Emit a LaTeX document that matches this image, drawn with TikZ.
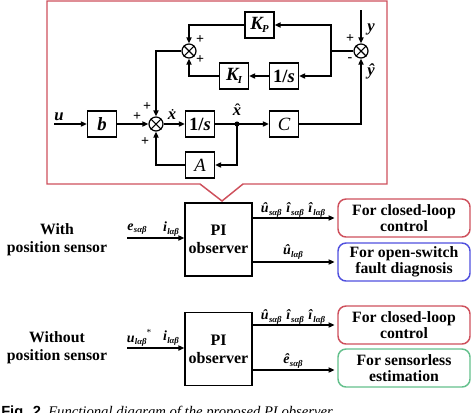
\documentclass[tikz,border=0pt]{standalone}
\usepackage{fontspec}
\setmainfont{Liberation Serif}
\newfontfamily\capsans{Liberation Sans}
\usetikzlibrary{arrows.meta}
\definecolor{callred}{RGB}{206,80,92}
\definecolor{boxred}{RGB}{206,80,92}
\definecolor{boxblue}{RGB}{80,80,222}
\definecolor{boxgreen}{RGB}{100,192,140}
\newcommand{\sgl}[2]{\textbf{\textit{#1}}\kern0.2pt\raisebox{-1.7pt}{\fontsize{6.5}{6.5}\selectfont\bfseries\itshape #2}}
\newcommand{\dotx}{\ooalign{\textbf{\textit{x}}\cr\hidewidth\kern1pt\raisebox{-0.05em}{˙}\hidewidth\cr}}
\newcommand{\hatx}{\ooalign{\textbf{\textit{x}}\cr\hidewidth\kern1pt ˆ\hidewidth\cr}}
\begin{document}
\begin{tikzpicture}[x=0.75pt,y=-0.75pt,
  blk/.style={draw,line width=0.9pt,minimum width=21.75pt,minimum height=19.5pt,inner sep=0pt,font=\fontsize{14}{14}\selectfont\bfseries\itshape},
  sumj/.style={draw,circle,line width=0.9pt,minimum size=10.5pt,inner sep=0pt},
  sig/.style={line width=1.1pt,-{Triangle[length=4.5pt,width=3.8pt]}},
  ln/.style={line width=1.1pt},
  pls/.style={font=\fontsize{10.5}{10.5}\selectfont\bfseries,inner sep=0pt},
  lab/.style={font=\fontsize{12.5}{12.5}\selectfont,inner sep=0pt},
  obs/.style={draw,line width=0.9pt,minimum width=50.25pt,minimum height=54.75pt,align=center,font=\fontsize{12}{13.5}\selectfont\bfseries,inner sep=0pt},
  outb/.style={draw,line width=1.1pt,rounded corners=6pt,minimum width=99pt,minimum height=28.5pt,align=center,font=\fontsize{11.8}{12.3}\selectfont\bfseries,inner sep=0pt},
  side/.style={align=center,font=\fontsize{11.8}{13.5}\selectfont\bfseries,inner sep=0pt},
  slab/.style={inner sep=0pt,font=\fontsize{10.5}{10.5}\selectfont}]
\useasboundingbox (0,0) rectangle (474,412);
\clip (0,0) rectangle (474,412);
% callout
\draw[callred,line width=1.1pt] (47,1) -- (47,184) -- (200,184) -- (222,201) -- (243,184) -- (387,184) -- (387,1) -- cycle;
% blocks
\node[blk] (KP) at (259.5,25) {K\kern-0.5pt\raisebox{-2pt}{\fontsize{8}{8}\selectfont P}};
\node[sumj] (s2) at (189,51) {};
\node[blk] (KI) at (234,76) {K\kern-0.5pt\raisebox{-2pt}{\fontsize{8}{8}\selectfont I}};
\node[blk,font=\fontsize{14}{14}\selectfont\bfseries] (int2) at (284,76) {1/\textit{s}};
\node[sumj] (s3) at (361,51) {};
\node[sumj] (s1) at (156,124) {};
\node[blk] (b) at (102,124) {b};
\node[blk,font=\fontsize{14}{14}\selectfont\bfseries] (int1) at (200,124) {1/\textit{s}};
\node[blk,font=\fontsize{14}{14}\selectfont\itshape] (C) at (284,124) {C};
\node[blk,font=\fontsize{14}{14}\selectfont\itshape] (A) at (200,165) {A};
\foreach \s in {s1,s2,s3}{
  \draw[line width=0.8pt] (\s.north east) -- (\s.south west) (\s.north west) -- (\s.south east);}
\coordinate (j) at (237,124);
\fill (j) circle (1.9pt);
\coordinate (yin) at (361,10);
\coordinate (uin) at (54,124);
\coordinate (br) at (331,51);
% connectors
\draw[sig] (yin) -- (s3.north);
\draw[ln] (s3.west) -- (br);
\draw[sig] (br) |- (KP.east);
\draw[sig] (br) |- (int2.east);
\draw[sig] (KP.west) -| (s2.north);
\draw[sig] (int2.west) -- (KI.east);
\draw[sig] (KI.west) -| (s2.south);
\draw[sig] (s2.west) -| (s1.north);
\draw[sig] (uin) -- (b.west);
\draw[sig] (b.east) -- (s1.west);
\draw[sig] (s1.east) -- (int1.west);
\draw[ln] (int1.east) -- (j);
\draw[sig] (j) -- (C.west);
\draw[sig] (j) |- (A.east);
\draw[sig] (A.west) -| (s1.south);
\draw[sig] (C.east) -| (s3.south);
% labels
\node[lab] (lu) at (59,117) {\textbf{\textit{u}}};
\node[lab] (ly) at (371,29) {\textbf{\textit{y}}};
\node[lab] (lyh) at (371,71) {\textbf{\textit{ŷ}}};
\node[lab] (lxd) at (172,116) {\dotx};
\node[lab] (lxh) at (237,112) {\hatx};
\node[pls] (p1) at (200,40) {+};
\node[pls] (p2) at (200,60) {+};
\node[pls] (p3) at (350,39) {+};
\node[pls] (p4) at (350,60) {-};
\node[pls] (p5) at (147,107) {+};
\node[pls] (p6) at (137,117) {+};
\node[pls] (p7) at (145,142) {+};
% ---------- lower part: with sensor
\node[obs] (pi1) at (218.5,239.5) {PI\\observer};
\node[side] (w1) at (57,240) {With\\position sensor};
\coordinate (in1) at (127,238);
\draw[sig] (in1) -- (in1 -| pi1.west);
\node[slab] (le1) at (137,229) {\sgl{e}{sαβ}};
\node[slab] (li1) at (171,229) {\sgl{i}{lαβ}};
\node[outb,draw=boxred] (o1) at (404,218) {For closed-loop\\control};
\node[outb,draw=boxblue] (o2) at (404,262) {For open-switch\\fault diagnosis};
\draw[sig,shorten >=2pt] (pi1.east |- o1.west) -- (o1.west);
\draw[sig,shorten >=2pt] (pi1.east |- o2.west) -- (o2.west);
\node[slab] (lo1) at (293,210) {\sgl{û}{sαβ}\,\,\sgl{î}{sαβ}\,\,\sgl{î}{lαβ}};
\node[slab] (lo2) at (293,252) {\sgl{û}{lαβ}};
% ---------- without sensor
\node[obs] (pi2) at (218.5,349) {PI\\observer};
\node[side] (w2) at (57,348) {Without\\position sensor};
\coordinate (in2) at (127,348);
\draw[sig] (in2) -- (in2 -| pi2.west);
\node[slab] (lu2) at (139,338) {\sgl{u}{lαβ}\raisebox{5pt}{\fontsize{7}{7}\selectfont *}};
\node[slab] (li2) at (171,338) {\sgl{i}{lαβ}};
\node[outb,draw=boxred] (o3) at (404,325) {For closed-loop\\control};
\node[outb,draw=boxgreen] (o4) at (404,368) {For sensorless\\estimation};
\draw[sig,shorten >=2pt] (pi2.east |- o3.west) -- (o3.west);
\draw[sig,shorten >=2pt] (pi2.east |- 0,370) -- (o4.west |- 0,370);
\node[slab] (lo3) at (293,317) {\sgl{û}{sαβ}\,\,\sgl{î}{sαβ}\,\,\sgl{î}{lαβ}};
\node[slab] (lo4) at (293,361) {\sgl{ê}{sαβ}};
% caption (cut by the frame, as in the reference)
\node[anchor=base west,inner sep=0pt,font=\fontsize{11}{11}\selectfont] (cap) at (1,416) {{\capsans\bfseries Fig. 2}\ \ \textit{Functional diagram of the proposed PI observer}};
\end{tikzpicture}
\end{document}
